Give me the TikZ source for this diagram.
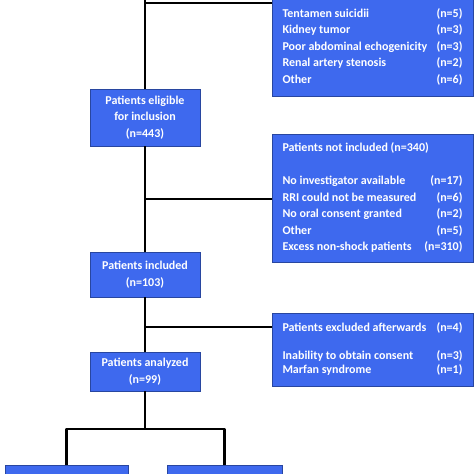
\documentclass[tikz,border=0pt]{standalone}
\usepackage{fontspec}
\setmainfont{Carlito}
\definecolor{boxblue}{RGB}{62,105,238}
\definecolor{boxline}{RGB}{40,70,160}
\newcommand{\listrows}[1]{\begin{tabular*}{180pt}{@{}l@{\extracolsep{\fill}}r@{}}#1\end{tabular*}}
\begin{document}
\begin{tikzpicture}[x=1pt,y=-1pt,
  box/.style={draw=boxline, line width=0.8pt, fill=boxblue, text=white, inner sep=0pt, align=center,
    font=\bfseries\fontsize{12}{16.5}\selectfont},
  flow/.style={line width=2.8pt, line join=round}]
  \useasboundingbox (0,0) rectangle (474,474);
  \clip (0,0) rectangle (474,474);
  % exclusion boxes on the right
  \node[box, minimum width=201, minimum height=114.5] (excl) at (372.5,38.75) {\listrows{
    & \\
    Tentamen suicidii & (n=5)\\
    Kidney tumor & (n=3)\\
    Poor abdominal echogenicity & (n=3)\\
    Renal artery stenosis & (n=2)\\
    Other & (n=6)}};
  \node[box, minimum width=201, minimum height=128] (notin) at (372.5,198) {\listrows{
    \multicolumn{2}{@{}l}{Patients not included (n=340)}\\
    & \\
    No investigator available & (n=17)\\
    RRI could not be measured & (n=6)\\
    No oral consent granted & (n=2)\\
    Other & (n=5)\\
    Excess non-shock patients & (n=310)}};
  \node[box, minimum width=201, minimum height=73, font=\bfseries\fontsize{12}{14}\selectfont] (after) at (372.5,349.5) {\listrows{
    Patients excluded afterwards & (n=4)\\
    & \\
    Inability to obtain consent & (n=3)\\
    Marfan syndrome & (n=1)}};
  % main flow
  \node[box, minimum width=110, minimum height=57] (elig) at (145,117.5) {Patients eligible\\for inclusion\\(n=443)};
  \node[box, minimum width=110, minimum height=45] (incl) at (145,274.5) {Patients included\\(n=103)};
  \node[box, minimum width=110, minimum height=39] (anal) at (145,371.5) {Patients analyzed\\(n=99)};
  \foreach \n/\x/\w in {outA/66.5/123, outB/224.5/115}
    \node[box, minimum width=\w, minimum height=30] (\n) at (\x,480) {};
  % connectors
  \coordinate (start) at (145,-10);
  \coordinate (j1) at (145,3);
  \coordinate (j2) at (145,199);
  \coordinate (j3) at (145,327);
  \coordinate (split) at (145,429);
  \draw[flow] (start) -- (elig.north);
  \draw[flow] (j1) -- (j1 -| excl.west);
  \draw[flow] (elig) -- (incl);
  \draw[flow] (j2) -- (j2 -| notin.west);
  \draw[flow] (incl) -- (anal);
  \draw[flow] (j3) -- (j3 -| after.west);
  \draw[flow] (anal) -- (split);
  \draw[flow] (outA.north) |- (split) -| (outB.north);
\end{tikzpicture}
\end{document}
